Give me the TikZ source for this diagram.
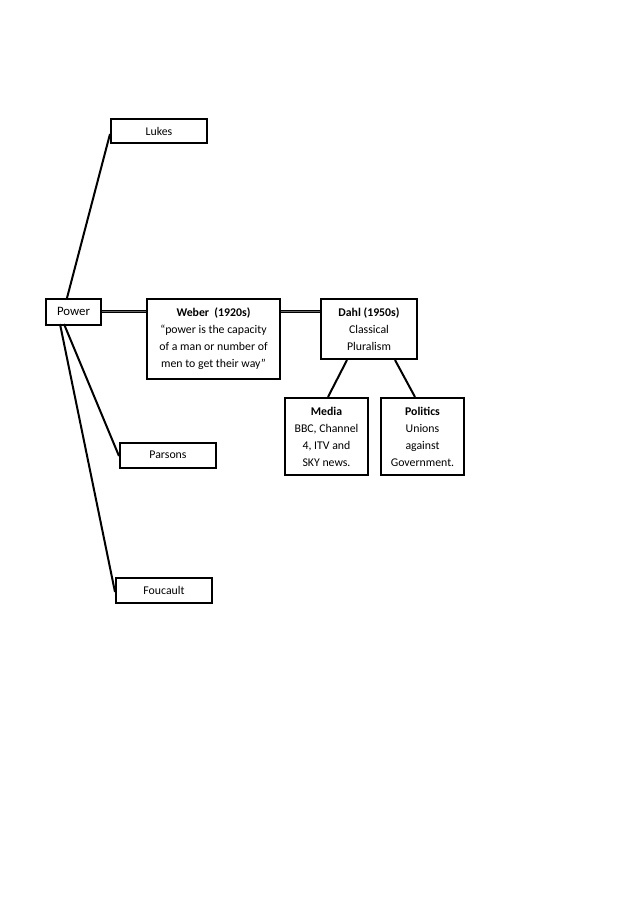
\documentclass[tikz,border=0pt]{standalone}
\usepackage{fontspec}
\setmainfont{Carlito}
\begin{document}
\begin{tikzpicture}[x=1pt,y=-1pt,
  box/.style={draw=black,line width=2pt,inner sep=0pt,align=center,font=\fontsize{11.8}{17}\selectfont},
  link/.style={draw=black,line width=2pt},
  dlink/.style={draw=black,line width=1.4pt,double=gray!80!black,double distance=0.6pt}]
\useasboundingbox (0,0) rectangle (638,902);
\node[box,minimum width=96pt,minimum height=24pt] (lukes) at (159,131) {Lukes};
\node[box,minimum width=55pt,minimum height=26pt,font=\fontsize{12.8}{15}\selectfont] (power) at (73.5,311.5) {Power};
\node[box,minimum width=133pt,minimum height=80pt,anchor=north west] (weber) at (146,298) {\textbf{Weber\ \ (1920s)}\\“power is the capacity\\of a man or number of\\men to get their way”};
\node[box,minimum width=96pt,minimum height=60pt,anchor=north west] (dahl) at (320,298) {\textbf{Dahl (1950s)}\\Classical\\Pluralism};
\node[box,minimum width=83pt,minimum height=77pt,anchor=north west] (media) at (284,397) {\textbf{Media}\\BBC, Channel\\4, ITV and\\SKY news.};
\node[box,minimum width=83pt,minimum height=77pt,anchor=north west] (politics) at (380,397) {\textbf{Politics}\\Unions\\against\\Government.};
\node[box,minimum width=96pt,minimum height=25pt] (parsons) at (168,455) {Parsons};
\node[box,minimum width=96pt,minimum height=25pt] (foucault) at (164,590) {Foucault};
\coordinate (p1) at (67,298);
\coordinate (p2) at (64,324);
\coordinate (p3) at (60,324);
\draw[link] (p1) -- (lukes.west |- 0,134);
\draw[link] (p2) -- (parsons.west |- 0,456);
\draw[link] (p3) -- (foucault.west |- 0,592);
\draw[dlink] (power.east) -- (weber.west |- power.east);
\draw[dlink] (weber.east |- power.east) -- (dahl.west |- power.east);
\draw[link] (dahl.south -| 347,0) -- (media.north -| 328,0);
\draw[link] (dahl.south -| 395,0) -- (politics.north -| 415,0);
\end{tikzpicture}
\end{document}
